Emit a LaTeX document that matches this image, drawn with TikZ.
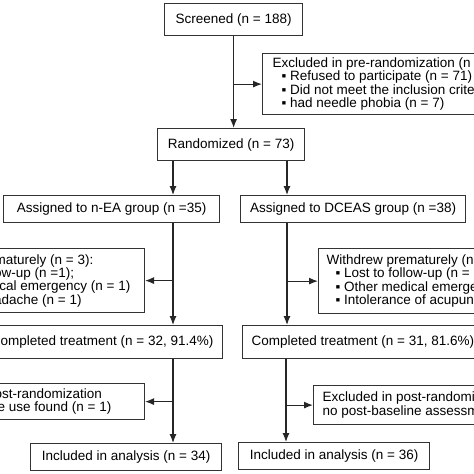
\documentclass[tikz,border=0pt]{standalone}
\usepackage{fontspec}
\setmainfont{Liberation Sans}
\usetikzlibrary{arrows.meta,positioning}

\begin{document}
\begin{tikzpicture}[x=1pt,y=-1pt]

	\tikzset{flowbox/.style={
			draw=black!80,
			line width=1.2pt,
			inner ysep=0pt,
			font=\fontsize{13.5}{13.3}\selectfont
		},
		flowarr/.style={
			draw=black!85,
			line width=1.2pt,
			-{Latex[length=9pt,width=7pt]}
		}
	}

	\useasboundingbox[fill=white] (0,0) rectangle (474,474);
	\clip (0,0) rectangle (474,474);

	% top part
	\node[flowbox, anchor=north west, minimum width=138, minimum height=32] (scr) at (164,3) {Screened (n = 188)};
	\node[flowbox, anchor=north west, align=left, inner xsep=10, minimum height=61] (exclpre) at (262,53)
		{Excluded in pre-randomization (n = 115)\\
		\hspace{9pt}▪ Refused to participate (n = 71)\\
		\hspace{9pt}▪ Did not meet the inclusion criteria (n = 37)\\
		\hspace{9pt}▪ had needle phobia (n = 7)};
	\node[flowbox, anchor=north west, minimum width=147, minimum height=32] (rand) at (157,128) {Randomized (n = 73)};

	\coordinate (lx) at (173,0);
	\coordinate (rx) at (287,0);

	% groups
	\node[flowbox, anchor=north west, minimum width=216, minimum height=27] (asgnea) at (3,195) {Assigned to n-EA group (n =35)};
	\node[flowbox, anchor=north west, minimum width=225, minimum height=27] (asgdceas) at (240,195) {Assigned to DCEAS group (n =38)};

	\node[flowbox, anchor=north east, align=left, inner xsep=14, minimum height=64] (wdnea) at (145,248)
		{Withdrew prematurely (n = 3):\\
		\hspace{9pt}▪ Lost to follow-up (n =1);\\
		\hspace{9pt}▪ Other medical emergency (n = 1)\\
		\hspace{9pt}▪ Severe headache (n = 1)};
	\node[flowbox, anchor=north west, align=left, inner xsep=8, minimum height=65] (wddceas) at (318,248)
		{Withdrew prematurely (n = 7):\\
		\hspace{9pt}▪ Lost to follow-up (n =\\
		\hspace{9pt}▪ Other medical emergency\\
		\hspace{9pt}▪ Intolerance of acupuncture};

	\node[flowbox, anchor=north east, inner xsep=9, minimum height=33] (compnea) at (223,325) {Completed treatment (n = 32, 91.4\%)};
	\node[flowbox, anchor=north west, inner xsep=9, minimum height=33] (compdceas) at (242,325) {Completed treatment (n = 31, 81.6\%)};

	\node[flowbox, anchor=north east, align=left, inner xsep=33, minimum height=36] (exnea) at (145,383)
		{Excluded in post-randomization\\
		Other medicine use found (n = 1)};
	\node[flowbox, anchor=north west, align=left, inner xsep=9, minimum height=39] (exdceas) at (313,385)
		{Excluded in post-randomization\\
		no post-baseline assessment};

	\node[flowbox, anchor=north west, minimum width=191, minimum height=27] (inclnea) at (30,443) {Included in analysis (n = 34)};
	\node[flowbox, anchor=north west, minimum width=191, minimum height=27] (incldceas) at (238,442) {Included in analysis (n = 36)};

	% connectors
	\draw[flowarr] (scr.south) -- (scr.south |- rand.north);
	\draw[flowarr] (scr.south |- exclpre.west) -- (exclpre.west);
	\draw[flowarr] (rand.south -| lx) -- (asgnea.north -| lx);
	\draw[flowarr] (rand.south -| rx) -- (asgdceas.north -| rx);

	\draw[flowarr] (asgnea.south -| lx) -- (compnea.north -| lx);
	\draw[flowarr] (wdnea.east -| lx) -- (wdnea.east);
	\draw[flowarr] (compnea.south -| lx) -- (inclnea.north -| lx);
	\draw[flowarr] (exnea.east -| lx) -- (exnea.east);

	\draw[flowarr] (asgdceas.south -| rx) -- (compdceas.north -| rx);
	\draw[flowarr] (wddceas.west -| rx) -- (wddceas.west);
	\draw[flowarr] ([xshift=-1pt]compdceas.south -| rx) -- ([xshift=-1pt]incldceas.north -| rx);
	\draw[flowarr] ([xshift=-1pt]exdceas.west -| rx) -- (exdceas.west);

\end{tikzpicture}
\end{document}
